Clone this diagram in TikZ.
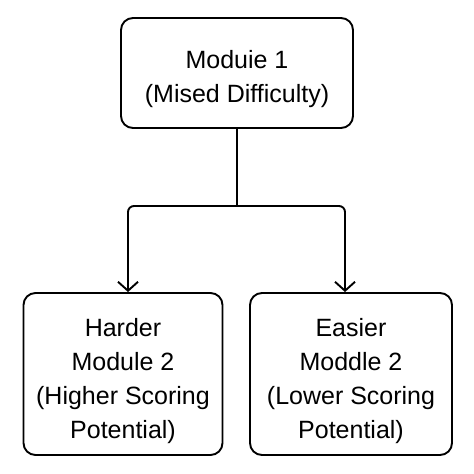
\documentclass[tikz,border=0pt]{standalone}
\usepackage{fontspec}
\setmainfont{Liberation Sans}
\usetikzlibrary{arrows.meta}

\tikzset{
  module/.style={draw,line width=1.9pt,rounded corners=12pt,inner sep=0pt},
  modtext/.style={align=center,font=\fontsize{25}{34}\selectfont,
    inner sep=0pt,yshift=-7pt},
  link/.style={line width=1.9pt,rounded corners=6pt},
  arr/.style={link,-{Straight Barb[length=9pt,width=20pt,line width=1.9pt]}}
}

\begin{document}
\begin{tikzpicture}[x=1pt,y=1pt]
\useasboundingbox (0,0) rectangle (474,-474);

\node[module,minimum width=232pt,minimum height=110pt,
  label={[modtext,yshift=1pt]center:{Moduie 1\\(Mised Difficulty)}}] (mod1) at (237,-73) {};
\node[module,minimum width=199pt,minimum height=162pt,
  label={[modtext]center:{Harder\\Module 2\\(Higher Scoring\\Potential)}}] (hard) at (123,-374) {};
\node[module,minimum width=202pt,minimum height=162pt,
  label={[modtext]center:{Easier\\Moddle 2\\(Lower Scoring\\Potential)}}] (easy) at (351,-374) {};

\coordinate (split) at (237,-206);
\draw[link] (mod1.south) -- (split);
\draw[arr] (split) -| ([xshift=5pt]hard.north);
\draw[arr] (split) -| ([xshift=-6pt]easy.north);

\end{tikzpicture}
\end{document}
